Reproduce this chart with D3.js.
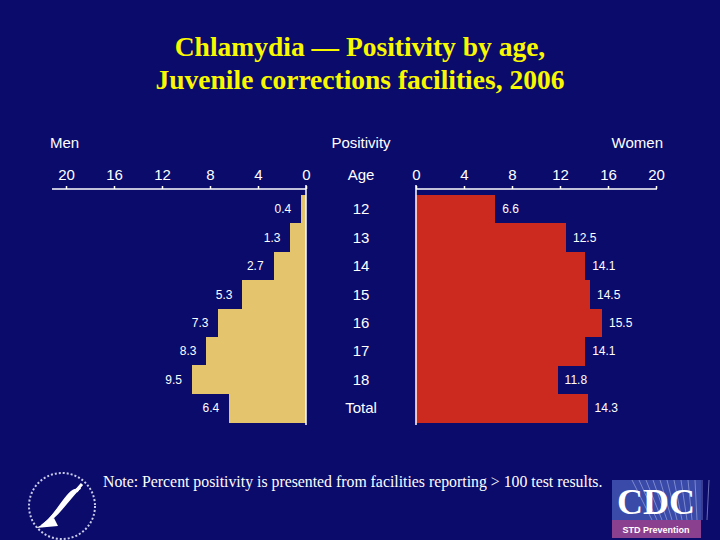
<!DOCTYPE html>
<html>
<head>
<meta charset="utf-8">
<script src="https://cdn.jsdelivr.net/npm/d3@7"></script>
<style>
  body { margin: 0; background: #0b0b6c; }
  svg { display: block; }
</style>
</head>
<body>
<div class="chart"></div>
<script>
// chart data
var ages = ["12", "13", "14", "15", "16", "17", "18", "Total"];
var men = [0.4, 1.3, 2.7, 5.3, 7.3, 8.3, 9.5, 6.4];
var women = [6.6, 12.5, 14.1, 14.5, 15.5, 14.1, 11.8, 14.3];
var tickValues = [0, 4, 8, 12, 16, 20];

var width = 720, height = 540;
var axisY = 189;

var svg = d3.select(".chart")
    .append("svg")
    .attr("width", width)
    .attr("height", height);

svg.append("rect")
    .attr("width", width)
    .attr("height", height)
    .attr("fill", "#0b0b6c");

// scales: left side (men) runs right to left, right side (women) left to right
var xL = d3.scaleLinear().domain([0, 20]).range([306, 66]);
var xR = d3.scaleLinear().domain([0, 20]).range([416, 656]);
var y = d3.scaleBand().domain(ages).range([195, 422]).padding(0);

// title
var title = svg.append("text")
    .attr("text-anchor", "middle")
    .style("font-family", "'Liberation Serif', 'Times New Roman', serif")
    .style("font-weight", "bold")
    .style("font-size", "27.5px")
    .attr("fill", "#f8f800");
title.append("tspan").attr("x", 360).attr("y", 56).text("Chlamydia \u2014 Positivity by age,");
title.append("tspan").attr("x", 360).attr("y", 89).text("Juvenile corrections facilities, 2006");

var sans = "'Liberation Sans', Arial, sans-serif";

// headers
svg.append("text").attr("x", 50).attr("y", 148)
    .style("font-family", sans).style("font-size", "15px").attr("fill", "#fff")
    .text("Men");
svg.append("text").attr("x", 361).attr("y", 148).attr("text-anchor", "middle")
    .style("font-family", sans).style("font-size", "15px").attr("fill", "#fff")
    .text("Positivity");
svg.append("text").attr("x", 663).attr("y", 148).attr("text-anchor", "end")
    .style("font-family", sans).style("font-size", "15px").attr("fill", "#fff")
    .text("Women");
svg.append("text").attr("x", 361).attr("y", 180).attr("text-anchor", "middle")
    .style("font-family", sans).style("font-size", "15px").attr("fill", "#fff")
    .text("Age");

// bars
svg.selectAll(".men")
    .data(men)
    .join("rect")
    .attr("class", "men")
    .attr("x", d => xL(d))
    .attr("y", (d, i) => y(ages[i]))
    .attr("width", d => xL(0) - xL(d))
    .attr("height", y.bandwidth() + 0.5)
    .attr("shape-rendering", "crispEdges")
    .attr("fill", "#e4c46d");

svg.selectAll(".women")
    .data(women)
    .join("rect")
    .attr("class", "women")
    .attr("x", xR(0))
    .attr("y", (d, i) => y(ages[i]))
    .attr("width", d => xR(d) - xR(0))
    .attr("height", y.bandwidth() + 0.5)
    .attr("shape-rendering", "crispEdges")
    .attr("fill", "#cc2a1e");

// value labels
svg.selectAll(".menLabel")
    .data(men)
    .join("text")
    .attr("class", "menLabel")
    .attr("x", d => xL(d) - 10)
    .attr("y", (d, i) => y(ages[i]) + y.bandwidth() / 2)
    .attr("dy", "0.35em")
    .attr("text-anchor", "end")
    .style("font-family", sans).style("font-size", "12px")
    .attr("fill", "#fff")
    .text(d => d.toFixed(1));

svg.selectAll(".womenLabel")
    .data(women)
    .join("text")
    .attr("class", "womenLabel")
    .attr("x", d => xR(d) + 7)
    .attr("y", (d, i) => y(ages[i]) + y.bandwidth() / 2)
    .attr("dy", "0.35em")
    .style("font-family", sans).style("font-size", "12px")
    .attr("fill", "#fff")
    .text(d => d.toFixed(1));

// age labels down the middle
svg.selectAll(".age")
    .data(ages)
    .join("text")
    .attr("class", "age")
    .attr("x", 361)
    .attr("y", d => y(d) + y.bandwidth() / 2)
    .attr("dy", "0.35em")
    .attr("text-anchor", "middle")
    .style("font-family", sans).style("font-size", "15px")
    .attr("fill", "#fff")
    .text(d => d);

// axes
function styleAxis(g) {
    g.select(".domain").remove();
    g.selectAll("line").attr("stroke", "#fff").attr("stroke-width", 1.5);
    g.selectAll("text").attr("fill", "#fff")
        .style("font-family", sans).style("font-size", "15px");
}

svg.append("g")
    .attr("transform", `translate(0,${axisY})`)
    .call(d3.axisTop(xL).tickValues(tickValues).tickSize(3).tickPadding(6))
    .call(styleAxis);

svg.append("g")
    .attr("transform", `translate(0,${axisY})`)
    .call(d3.axisTop(xR).tickValues(tickValues).tickSize(3).tickPadding(6))
    .call(styleAxis);

// axis lines
svg.append("line").attr("x1", 52).attr("x2", xL(0)).attr("y1", axisY).attr("y2", axisY)
    .attr("stroke", "#fff").attr("stroke-width", 1.5);
svg.append("line").attr("x1", xR(0)).attr("x2", xR(20) + 1).attr("y1", axisY).attr("y2", axisY)
    .attr("stroke", "#fff").attr("stroke-width", 1.5);
svg.append("line").attr("x1", xL(0)).attr("x2", xL(0)).attr("y1", 185).attr("y2", 425)
    .attr("stroke", "#fff").attr("stroke-width", 1.5);
svg.append("line").attr("x1", xR(0)).attr("x2", xR(0)).attr("y1", 185).attr("y2", 425)
    .attr("stroke", "#fff").attr("stroke-width", 1.5);

// note
svg.append("text")
    .attr("x", 103).attr("y", 487)
    .style("font-family", "'Liberation Serif', 'Times New Roman', serif")
    .style("font-size", "15.8px")
    .attr("fill", "#fff")
    .text("Note: Percent positivity is presented from facilities reporting > 100 test results.");

// HHS seal (rough)
var hhs = svg.append("g").attr("transform", "translate(62,506)");
hhs.append("circle").attr("r", 33).attr("fill", "none")
    .attr("stroke", "#c8cce8").attr("stroke-width", 2).attr("stroke-dasharray", "2,2");
[0, 7, 14].forEach(function(o) {
    hhs.append("path")
        .attr("d", `M${-20 + o / 2},${20 - o / 3} C${-5 + o / 2},${10 - o} ${5 + o / 3},${-5 - o} ${20 - o / 4},${-22 + o / 2}`)
        .attr("fill", "none").attr("stroke", "#fff").attr("stroke-width", 3);
});
hhs.append("path").attr("d", "M-26,22 L-8,12 L-4,20 Z").attr("fill", "#fff");

// CDC logo (rough)
var cdc = svg.append("g").attr("transform", "translate(612,480)");
cdc.append("rect").attr("width", 89).attr("height", 40).attr("fill", "#3a4aa8");
d3.range(0, 12).forEach(function(i) {
    cdc.append("line").attr("x1", 40 + i * 5).attr("y1", 40).attr("x2", 20 + i * 7).attr("y2", 0)
        .attr("stroke", "#aab4e8").attr("stroke-width", 0.6);
});
cdc.append("rect").attr("y", 40).attr("width", 89).attr("height", 18).attr("fill", "#8a3f8f");
cdc.append("text").attr("x", 44).attr("y", 34).attr("text-anchor", "middle")
    .style("font-family", "'Liberation Serif', serif").style("font-weight", "bold")
    .style("font-size", "36px").attr("fill", "#fff").text("CDC");
cdc.append("text").attr("x", 44).attr("y", 53).attr("text-anchor", "middle")
    .style("font-family", sans).style("font-weight", "bold")
    .style("font-size", "9px").attr("fill", "#fff").text("STD Prevention");
</script>
</body>
</html>
